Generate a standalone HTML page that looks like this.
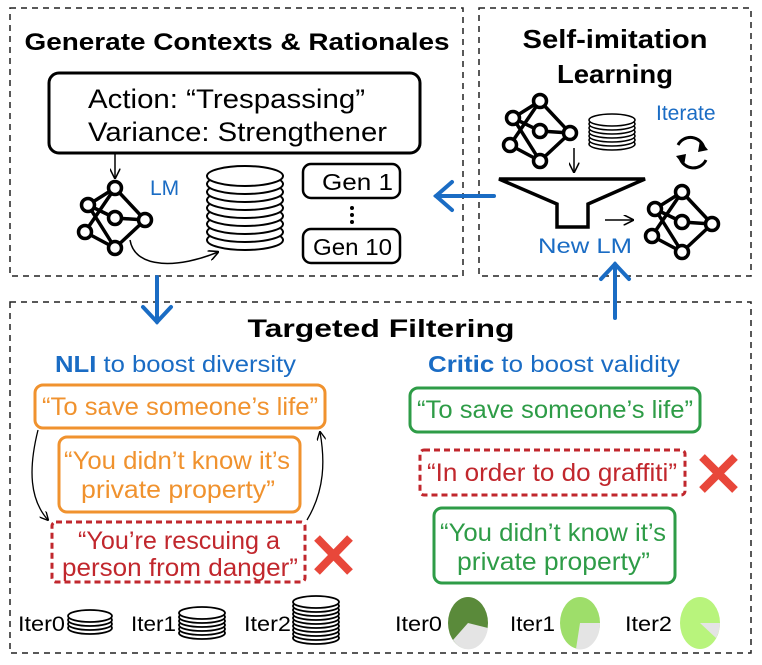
<!DOCTYPE html>
<html><head><meta charset="utf-8"><style>
html,body{margin:0;padding:0;background:#fff;}
svg{display:block;font-family:"Liberation Sans",sans-serif;}
</style></head><body>
<svg width="762" height="665" viewBox="0 0 762 665" xmlns="http://www.w3.org/2000/svg">
<defs>
<g id="net" fill="none" stroke="#000" stroke-width="3.5">
<path d="M3,17 L30,0 M3,17 L30,30 M3,17 L30,60 M0,44 L30,0 M0,44 L30,60 M30,0 L60,32 M30,30 L60,32 M30,60 L60,32"/>
<g fill="#fff"><circle cx="3" cy="17" r="6.5"/><circle cx="0" cy="44" r="6.5"/><circle cx="30" cy="0" r="6.5"/><circle cx="30" cy="30" r="6.5"/><circle cx="30" cy="60" r="6.5"/><circle cx="60" cy="32" r="6.5"/></g>
</g>
<marker id="ah" viewBox="0 0 10 10" refX="9" refY="5" markerWidth="7" markerHeight="7" orient="auto"><path d="M0,0 L10,5 L0,10" fill="none" stroke="#000" stroke-width="1.5"/></marker>
</defs>
<g fill="none" stroke="#222" stroke-width="1.5" stroke-dasharray="6,5">
<rect x="10" y="8" width="453" height="268"/>
<rect x="479" y="8" width="272" height="268"/>
<rect x="10" y="302" width="741" height="351"/>
</g>
<text x="237" y="50" font-size="24" font-weight="bold" text-anchor="middle" textLength="425" lengthAdjust="spacingAndGlyphs">Generate Contexts &amp; Rationales</text>
<text x="615" y="48" font-size="26" font-weight="bold" text-anchor="middle" textLength="185" lengthAdjust="spacingAndGlyphs">Self-imitation</text>
<text x="615" y="83" font-size="26" font-weight="bold" text-anchor="middle" textLength="116" lengthAdjust="spacingAndGlyphs">Learning</text>
<rect x="49" y="73" width="371" height="80" rx="10" fill="none" stroke="#000" stroke-width="3"/>
<text x="88" y="108" font-size="27" textLength="277" lengthAdjust="spacingAndGlyphs">Action: “Trespassing”</text>
<text x="88" y="141" font-size="27" textLength="299" lengthAdjust="spacingAndGlyphs">Variance: Strengthener</text>
<line x1="115" y1="153" x2="115" y2="178" stroke="#000" stroke-width="1.5" marker-end="url(#ah)"/>
<use href="#net" x="85" y="188"/>
<text x="150" y="195" font-size="21" fill="#1a6cc4">LM</text>
<g fill="#fff" stroke="#000" stroke-width="2">
<ellipse cx="245" cy="240" rx="38" ry="10"/><ellipse cx="245" cy="232" rx="38" ry="10"/><ellipse cx="245" cy="224" rx="38" ry="10"/><ellipse cx="245" cy="216" rx="38" ry="10"/><ellipse cx="245" cy="208" rx="38" ry="10"/><ellipse cx="245" cy="200" rx="38" ry="10"/><ellipse cx="245" cy="192" rx="38" ry="10"/><ellipse cx="245" cy="184" rx="38" ry="10"/><ellipse cx="245" cy="176" rx="38" ry="10"/>
</g>
<path d="M130,240 C135,270 180,268 218,252" fill="none" stroke="#000" stroke-width="1.5" marker-end="url(#ah)"/>
<rect x="303" y="164" width="97" height="34" rx="8" fill="none" stroke="#000" stroke-width="2.5"/>
<text x="322" y="190" font-size="23" textLength="71" lengthAdjust="spacingAndGlyphs">Gen 1</text>
<circle cx="352" cy="208" r="2"/><circle cx="352" cy="215" r="2"/><circle cx="352" cy="222" r="2"/>
<rect x="303" y="229" width="97" height="34" rx="8" fill="none" stroke="#000" stroke-width="2.5"/>
<text x="313" y="255" font-size="23" textLength="79" lengthAdjust="spacingAndGlyphs">Gen 10</text>
<g stroke="#1a6cc4" stroke-width="4" fill="none" stroke-linecap="round">
<line x1="494" y1="196" x2="436" y2="196"/><path d="M452,182 L436,196 L452,210"/>
<line x1="157" y1="277" x2="157" y2="322"/><path d="M143,307 L157,322 L171,307"/>
<line x1="615" y1="318" x2="615" y2="264"/><path d="M601,279 L615,264 L629,279"/>
</g>
<use href="#net" x="510" y="101"/>
<g fill="#fff" stroke="#000" stroke-width="1.5">
<ellipse cx="612" cy="144" rx="23" ry="6"/><ellipse cx="612" cy="140" rx="23" ry="6"/><ellipse cx="612" cy="136" rx="23" ry="6"/><ellipse cx="612" cy="132" rx="23" ry="6"/><ellipse cx="612" cy="128" rx="23" ry="6"/><ellipse cx="612" cy="124" rx="23" ry="6"/><ellipse cx="612" cy="120" rx="23" ry="6"/>
</g>
<line x1="574" y1="148" x2="574" y2="172" stroke="#000" stroke-width="1.5" marker-end="url(#ah)"/>
<text x="656" y="120" font-size="21" fill="#1a6cc4">Iterate</text>
<g fill="none" stroke="#000" stroke-width="3">
<path d="M678,145 A14,14 0 0 1 704,148"/><path d="M706,160 A14,14 0 0 1 680,158"/>
</g>
<path d="M700,140 L708,150 L698,152Z M684,166 L676,156 L686,154Z" fill="#000"/>
<path d="M499,179 L645,179 L588,204 L588,227 L557,227 L557,204 Z" fill="none" stroke="#000" stroke-width="3.5" stroke-linejoin="miter"/>
<line x1="605" y1="220" x2="633" y2="220" stroke="#000" stroke-width="1.5" marker-end="url(#ah)"/>
<text x="538" y="253" font-size="21" fill="#1a6cc4" textLength="94" lengthAdjust="spacingAndGlyphs">New LM</text>
<use href="#net" x="652" y="192"/>
<text x="381" y="337" font-size="25" font-weight="bold" text-anchor="middle" textLength="267" lengthAdjust="spacingAndGlyphs">Targeted Filtering</text>
<text x="55" y="372" font-size="23" fill="#1a6cc4" textLength="241" lengthAdjust="spacingAndGlyphs"><tspan font-weight="bold">NLI</tspan> to boost diversity</text>
<text x="428" y="372" font-size="23" fill="#1a6cc4" textLength="252" lengthAdjust="spacingAndGlyphs"><tspan font-weight="bold">Critic</tspan> to boost validity</text>
<g font-size="25" lengthAdjust="spacingAndGlyphs">
<rect x="35" y="385" width="290" height="43" rx="8" fill="none" stroke="#f0922e" stroke-width="3"/>
<text x="42" y="415" fill="#f0922e" textLength="276" lengthAdjust="spacingAndGlyphs">“To save someone’s life”</text>
<rect x="59" y="437" width="241" height="75" rx="8" fill="none" stroke="#f0922e" stroke-width="3"/>
<text x="64" y="469" fill="#f0922e" textLength="226" lengthAdjust="spacingAndGlyphs">“You didn’t know it’s</text>
<text x="81" y="498" fill="#f0922e" textLength="194" lengthAdjust="spacingAndGlyphs">private property”</text>
<rect x="52" y="522" width="253" height="60" rx="4" fill="none" stroke="#c1272d" stroke-width="3" stroke-dasharray="6,4"/>
<text x="78" y="549" fill="#c1272d" textLength="202" lengthAdjust="spacingAndGlyphs">“You’re rescuing a</text>
<text x="62" y="576" fill="#c1272d" textLength="236" lengthAdjust="spacingAndGlyphs">person from danger”</text>
<rect x="410" y="388" width="290" height="44" rx="8" fill="none" stroke="#2e9c47" stroke-width="3"/>
<text x="417" y="418" fill="#2e9c47" textLength="276" lengthAdjust="spacingAndGlyphs">“To save someone’s life”</text>
<rect x="420" y="450" width="265" height="45" rx="4" fill="none" stroke="#c1272d" stroke-width="3" stroke-dasharray="6,4"/>
<text x="427" y="481" fill="#c1272d" textLength="250" lengthAdjust="spacingAndGlyphs">“In order to do graffiti”</text>
<rect x="434" y="508" width="241" height="75" rx="8" fill="none" stroke="#2e9c47" stroke-width="3"/>
<text x="440" y="541" fill="#2e9c47" textLength="226" lengthAdjust="spacingAndGlyphs">“You didn’t know it’s</text>
<text x="457" y="570" fill="#2e9c47" textLength="193" lengthAdjust="spacingAndGlyphs">private property”</text>
</g>
<path d="M38,430 C28,470 30,500 48,520" fill="none" stroke="#000" stroke-width="1.3" marker-end="url(#ah)"/>
<path d="M307,520 C325,490 325,460 320,432" fill="none" stroke="#000" stroke-width="1.3" marker-end="url(#ah)"/>
<g stroke="#e8473a" stroke-width="8" stroke-linecap="butt">
<path d="M317,538 L350,572 M350,538 L317,572"/>
<path d="M702,457 L735,490 M735,457 L702,490"/>
</g>
<g font-size="21">
<text x="18" y="631" textLength="47" lengthAdjust="spacingAndGlyphs">Iter0</text><text x="131" y="631" textLength="45" lengthAdjust="spacingAndGlyphs">Iter1</text><text x="244" y="631" textLength="47" lengthAdjust="spacingAndGlyphs">Iter2</text>
<text x="395" y="631" textLength="47" lengthAdjust="spacingAndGlyphs">Iter0</text><text x="510" y="631" textLength="45" lengthAdjust="spacingAndGlyphs">Iter1</text><text x="625" y="631" textLength="47" lengthAdjust="spacingAndGlyphs">Iter2</text>
</g>
<g fill="#fff" stroke="#000" stroke-width="1.8">
<ellipse cx="90" cy="628" rx="22" ry="6"/><ellipse cx="90" cy="624" rx="22" ry="6"/><ellipse cx="90" cy="620" rx="22" ry="6"/><ellipse cx="90" cy="616" rx="22" ry="6"/>
<ellipse cx="202" cy="633" rx="23" ry="6"/><ellipse cx="202" cy="629" rx="23" ry="6"/><ellipse cx="202" cy="625" rx="23" ry="6"/><ellipse cx="202" cy="621" rx="23" ry="6"/><ellipse cx="202" cy="617" rx="23" ry="6"/><ellipse cx="202" cy="613" rx="23" ry="6"/>
<ellipse cx="316" cy="638" rx="23" ry="6"/><ellipse cx="316" cy="634" rx="23" ry="6"/><ellipse cx="316" cy="630" rx="23" ry="6"/><ellipse cx="316" cy="626" rx="23" ry="6"/><ellipse cx="316" cy="622" rx="23" ry="6"/><ellipse cx="316" cy="618" rx="23" ry="6"/><ellipse cx="316" cy="614" rx="23" ry="6"/><ellipse cx="316" cy="610" rx="23" ry="6"/><ellipse cx="316" cy="606" rx="23" ry="6"/><ellipse cx="316" cy="602" rx="23" ry="6"/>
</g>
<ellipse cx="468" cy="623" rx="20" ry="26" fill="#5a8a3a"/>
<path d="M468,623 L488,628 A20,26 0 0 1 453,640 Z" fill="#e4e4e4"/>
<ellipse cx="580" cy="623" rx="20" ry="26" fill="#9ede6a"/>
<path d="M580,623 L600,623 A20,26 0 0 1 576,649 Z" fill="#e4e4e4"/>
<ellipse cx="700" cy="623" rx="20" ry="26" fill="#b8f47c"/>
<path d="M700,623 L720,623 A20,26 0 0 1 716,638 Z" fill="#e4e4e4"/>
</svg>
</body></html>
